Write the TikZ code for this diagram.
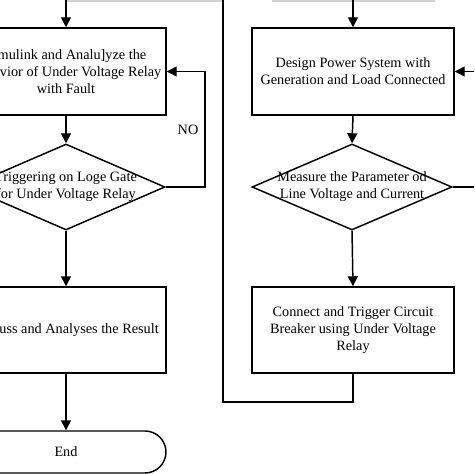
\documentclass[tikz,border=0pt]{standalone}
\usepackage{fontspec}
\setmainfont{Liberation Serif}
\usetikzlibrary{arrows.meta,shapes.geometric}
\begin{document}
\begin{tikzpicture}[x=0.75pt,y=-0.75pt, line width=1.1pt,
  >={Triangle[length=7.5pt,width=7.5pt]},
  every node/.style={font=\fontsize{10.7}{12.75}\selectfont},
  procbox/.style={draw, rectangle, align=center, minimum height=65.25pt, inner sep=0pt},
  decbox/.style={draw, diamond, minimum height=64.5pt, inner sep=0pt},
  termbox/.style={draw, rectangle, rounded corners=15.75pt, minimum width=150pt, minimum height=31.5pt, inner sep=0pt},
  lbl/.style={inner sep=1pt}]
\useasboundingbox (0,0) rectangle (474,474);
\clip (0,0) rectangle (474,474);
% grey edges of shapes above the crop
\fill[black!18] (67,-3) rectangle (223,2.5);
\fill[black!18] (272,-3) rectangle (435,2.5);
% left column
\node[procbox, minimum width=150pt] (b1) at (66,71.5) {Simulink and Analu]yze the\\Behavior of Under Voltage Relay\\with Fault};
\node[decbox, minimum width=148.5pt, label={[align=center]center:{Triggering on Loge Gate\\for Under Voltage Relay}}] (d1) at (66,187) {};
\node[procbox, minimum width=150pt, minimum height=64.5pt] (b2) at (66,330) {Discuss and Analyses the Result};
\node[termbox] (e) at (66,452) {End};
\node[lbl] (no) at (188,130) {NO};
% right column
\node[procbox, minimum width=151.5pt] (b3) at (353,71.5) {Design Power System with\\Generation and Load Connected};
\node[decbox, minimum width=150pt, label={[align=center]center:{Measure the Parameter od\\Line Voltage and Current}}] (d2) at (352,187) {};
\node[procbox, minimum width=151.5pt, minimum height=64.5pt] (b4) at (353,330) {Connect and Trigger Circuit\\Breaker using Under Voltage\\Relay};
% free ends
\coordinate (t1) at (66,-6);
\coordinate (t3) at (353,-6);
\coordinate (fb) at (205,130);
\coordinate (lp) at (223,402);
\coordinate (ltop) at (223,-6);
\coordinate (rin) at (480,71.5);
\coordinate (rout) at (480,187);
% connectors
\draw[->] (t1) -- (b1.north);
\draw[->] (b1.south) -- (d1.north);
\draw[->] (d1.south) -- (b2.north);
\draw[->] (b2.south) -- (e.north);
\draw[->] (d1.east) -| (fb) |- (b1.east);
\draw[->] (t3) -- (b3.north);
\draw[->] (rin) -- (b3.east);
\draw[->] (b3.south) -- (d2.north);
\draw (d2.east) -- (rout);
\draw[->] (d2.south) -- (b4.north);
\draw (b4.south) |- (lp) -- (ltop);
\end{tikzpicture}
\end{document}
